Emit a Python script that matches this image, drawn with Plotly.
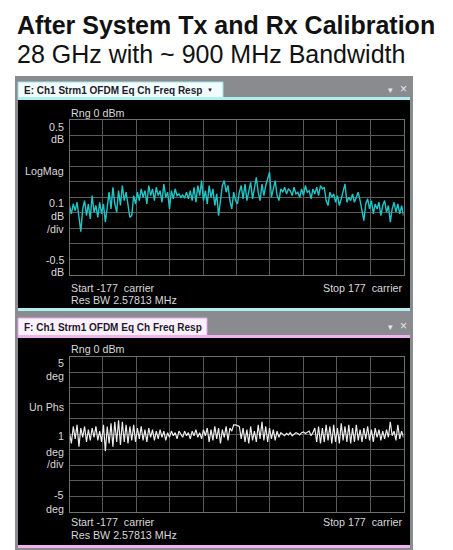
import plotly.graph_objects as go

W, H = 453, 550
# the page body adds an 8px margin; the figure is sized to fill the rest of the window
OFF = 8
FW, FH = W - OFF, H - OFF

# ---------------- data ----------------
carriers = list(range(-177, 178, 2))  # 178 carrier positions

# top panel: equalizer channel frequency response, LogMag (dB)
mag_db = [
    -0.055, -0.109, -0.045, -0.088, -0.034, -0.141, -0.223, -0.077, -0.023, -0.120,
    -0.045, -0.141, 0.009, -0.098, -0.055, -0.131, -0.034, -0.109, -0.045, -0.163,
    -0.055, 0.031, -0.077, 0.063, -0.045, -0.098, 0.041, -0.055, 0.074, -0.023,
    0.031, -0.055, -0.131, -0.120, 0.009, -0.045, 0.031, -0.023, 0.052, -0.002,
    0.041, -0.045, 0.074, 0.009, 0.052, -0.023, 0.063, 0.009, 0.041, -0.034,
    0.084, -0.002, 0.031, -0.077, 0.041, -0.012, 0.052, 0.009, 0.020, -0.002,
    0.013, -0.008, 0.031, -0.012, 0.041, -0.023, 0.063, -0.034, 0.074, 0.009,
    0.106, -0.023, 0.041, -0.045, 0.074, -0.002, 0.052, -0.055, 0.020, -0.120,
    -0.012, 0.074, 0.106, 0.031, 0.074, -0.023, -0.077, 0.031, -0.023,
    -0.045, 0.031, 0.074, -0.012, 0.084, -0.023, 0.041, 0.095, -0.012, 0.074,
    0.127, 0.031, -0.023, 0.084, 0.009, 0.074, 0.117, 0.160, -0.002, 0.063,
    0.106, 0.009, -0.023, 0.052, 0.031, 0.063, 0.020, 0.052, 0.041, 0.009,
    0.063, 0.020, 0.031, -0.002, 0.052, 0.009, 0.074, 0.031, 0.041, -0.012,
    0.052, 0.020, 0.063, 0.009, 0.074, 0.052, 0.063, -0.023, -0.055, 0.031,
    -0.002, 0.020, -0.034, 0.009, -0.055, -0.012, 0.041, 0.084, -0.034, -0.002,
    -0.023, 0.020, -0.034, -0.002, 0.031, -0.023, -0.077, -0.152, -0.045, -0.012,
    -0.077, -0.023, -0.109, -0.045, -0.077, -0.034, -0.120, -0.055, -0.023, -0.098,
    -0.055, -0.163, -0.077, -0.034, -0.098, -0.045, -0.109, -0.055, -0.120,
]

# bottom panel: unwrapped phase (deg)
phase_deg = [
    0.1, -0.6, 0.5, -0.3, 0.6, -0.8, 0.4, -0.2, 0.5, -0.5,
    0.3, -0.4, 0.4, -0.2, 0.5, -0.4, 0.2, -0.5, 0.6,
    -1.1, 0.5, -0.6, 0.7, -0.8, 0.8, -0.5, 0.9, -0.7, 0.8,
    -0.5, 0.6, -0.6, 0.5, -0.4, 0.6, -0.5, 0.4, -0.3, 0.5,
    -0.4, 0.3, -0.5, 0.4, -0.2, 0.3, -0.4, 0.2, -0.3, 0.3, -0.2, 0.2, -0.4,
    0.1, -0.2, 0.2, -0.1, 0.1, -0.3, 0.2, 0.0, -0.2, 0.2, -0.1, 0.1, -0.3, 0.2, -0.1, 0.3, -0.2, 0.1, -0.3, 0.3, -0.1,
    0.4, -0.5, 0.3, -0.4, 0.5, -0.3, 0.4, -0.6, 0.3, -0.2, 0.5, -0.4, 0.4, 0.2,
    0.6, 0.6, 0.55, 0.5,
    -0.3, 0.4, -0.5, 0.3, -0.6, 0.5, -0.4, 0.2, -0.5, 0.6, -0.3, 0.8, -0.4, 0.5,
    -0.5, 0.4, -0.3, 0.3, -0.4, 0.2, -0.2, 0.1,
    0.0, -0.1, 0.05, -0.05, 0.1, -0.1, 0.0, 0.1, 0.05, -0.05, 0.1, 0.15, 0.05, 0.1, 0.2, -0.1, 0.1,
    0.4, -0.5, 0.5, -0.6, 0.4, -0.5, 0.6, -0.4, 0.5, -0.6, 0.6, -0.5, 0.4, -0.6, 0.7, -0.4, 0.5, -0.5, 0.6,
    -0.6, 0.4, -0.5, 0.6, -0.4, 0.3, -0.5, 0.4, -0.3, 0.5, -0.4, 0.3, -0.5, 0.4, -0.2, 0.3, -0.4, 0.2, -0.3,
    0.3, -0.2, 0.8, -0.1, 0.2, -0.4, 0.6, -0.3, 0.2, -0.2,
]

title_line1 = "After System Tx and Rx Calibration"
title_line2 = "28 GHz with ~ 900 MHz Bandwidth"
top_tab = "E: Ch1 Strm1 OFDM Eq Ch Freq Resp"
bot_tab = "F: Ch1 Strm1 OFDM Eq Ch Freq Resp"

# ---------------- helpers (window pixel -> paper) ----------------
def px(x):
    return (x - OFF) / FW


def py(y):
    return 1 - (y - OFF) / FH


shapes = []


def rect(x0, y0, x1, y1, fill, line=None, lw=0):
    shapes.append(dict(type="rect", xref="paper", yref="paper",
                       x0=px(x0), x1=px(x1), y0=py(y1), y1=py(y0),
                       fillcolor=fill, line=dict(color=line or fill, width=lw),
                       layer="below"))


annotations = []
FONT = "Liberation Sans, Arial, sans-serif"


def ann(text, x, y, xanchor="left", size=10.7, color="#d9d9d9", weight="normal"):
    annotations.append(dict(text=text, x=px(x), y=py(y), xref="paper", yref="paper",
                            xanchor=xanchor, yanchor="middle", showarrow=False,
                            font=dict(family=FONT, size=size, color=color, weight=weight)))


GRAY = "#8a8b8f"
CYAN = "#b0eef0"
PINK = "#efb3ef"

# window frame
rect(15, 76, 413, 551, GRAY)
# top window
rect(18, 82, 223, 99, "#f3fcfc", "#9fe2e8", 1)
rect(18, 97, 410, 100, CYAN)
rect(18, 100, 410, 308, "#000000")
rect(18, 308, 410, 311, CYAN)
# bottom window
rect(18, 318, 207, 337, "#fcf0fc", "#e6a6e6", 1)
rect(18, 335, 410, 338, PINK)
rect(18, 338, 410, 545, "#000000")
rect(18, 545, 410, 548, PINK)

# titles
ann("<b>" + title_line1 + "</b>", 15, 25, size=25, color="#111111")
ann(title_line2, 15, 53.5, size=25, color="#111111")

# tabs
ann(top_tab, 22, 90.5, size=10, color="#1c1c2c", weight="bold")
ann("▼", 210, 90, xanchor="center", size=6, color="#1c1c2c")
ann(bot_tab, 22, 327.5, size=10, color="#1c1c2c", weight="bold")
for yy in (90, 327):
    ann("▾", 390, yy, xanchor="center", size=9, color="#e6e6e6")
    ann("×", 403, yy - 1, xanchor="center", size=12, color="#e6e6e6")

# top panel labels
ann("Rng 0 dBm", 69, 113)
for t, y in [("0.5", 127), ("dB", 138.5), ("LogMag", 171), ("0.1", 203), ("dB", 216),
             ("/div", 229), ("-0.5", 260), ("dB", 272)]:
    ann(t, 66, y, xanchor="right")
ann("Start -177  carrier", 69, 288)
ann("Res BW 2.57813 MHz", 69, 300)
ann("Stop 177  carrier", 404, 288, xanchor="right")

# bottom panel labels
ann("Rng 0 dBm", 69, 349)
for t, y in [("5", 363), ("deg", 375.5), ("Un Phs", 407), ("1", 436), ("deg", 451.5),
             ("/div", 463.5), ("-5", 495), ("deg", 508.5)]:
    ann(t, 66, y, xanchor="right")
ann("Start -177  carrier", 69, 522)
ann("Res BW 2.57813 MHz", 69, 535)
ann("Stop 177  carrier", 404, 522, xanchor="right")

# ---------------- figure ----------------
fig = go.Figure()
fig.add_trace(go.Scatter(x=carriers, y=mag_db, mode="lines",
                         line=dict(color="#1fc6c8", width=1.4),
                         xaxis="x", yaxis="y", hoverinfo="skip", showlegend=False))
fig.add_trace(go.Scatter(x=carriers, y=phase_deg, mode="lines",
                         line=dict(color="#ececec", width=1.2),
                         xaxis="x2", yaxis="y2", hoverinfo="skip", showlegend=False))

common = dict(showticklabels=False, ticks="", showgrid=True, gridcolor="#5a5a5a",
              gridwidth=1, showline=True, linecolor="#707070", linewidth=1,
              mirror=True, zeroline=False, fixedrange=True)

xdom = [px(69.5), px(403.5)]
fig.update_layout(
    width=FW, height=FH, autosize=False,
    margin=dict(l=0, r=0, t=0, b=0),
    paper_bgcolor="white", plot_bgcolor="black",
    showlegend=False,
    xaxis=dict(domain=xdom, range=[-177, 177], tick0=-177, dtick=35.4, anchor="y", **common),
    yaxis=dict(domain=[py(274.5), py(119.5)], range=[-0.5, 0.5], tick0=-0.5, dtick=0.1,
               anchor="x", **common),
    xaxis2=dict(domain=xdom, range=[-177, 177], tick0=-177, dtick=35.4, anchor="y2", **common),
    yaxis2=dict(domain=[py(511.7), py(356.7)], range=[-5, 5], tick0=-5, dtick=1,
                anchor="x2", **common),
    shapes=shapes,
    annotations=annotations,
)

fig.write_html("out.html", config=dict(displayModeBar=False))
